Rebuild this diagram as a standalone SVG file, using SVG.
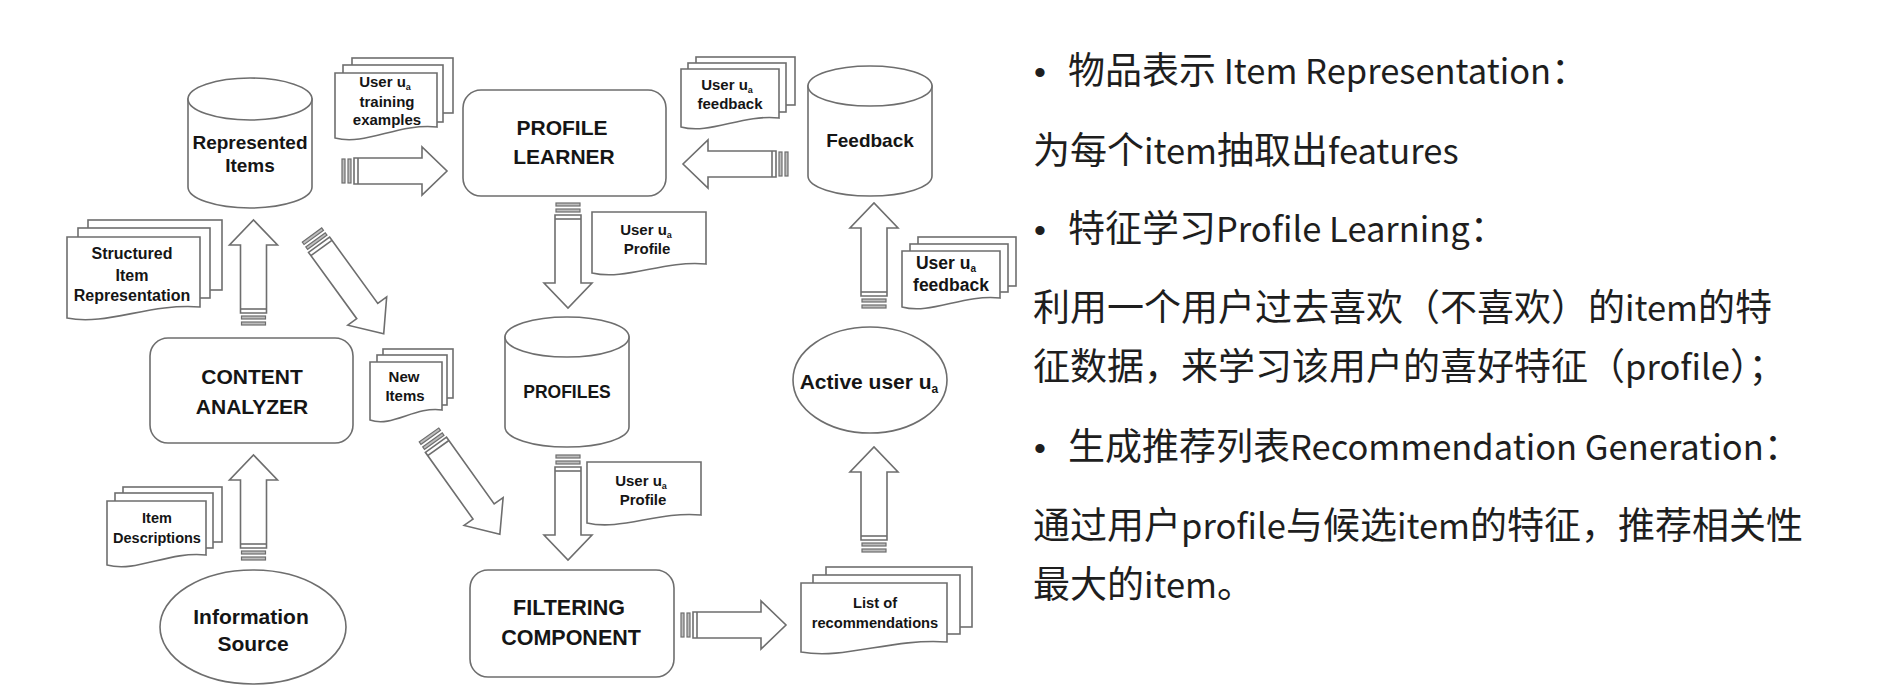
<svg xmlns="http://www.w3.org/2000/svg" xmlns:xlink="http://www.w3.org/1999/xlink" width="1887" height="699" viewBox="0 0 1887 699">
  <style>
    .sh { fill: #ffffff; stroke: #6e6e6e; stroke-width: 1.6; }
    .st { fill: #bdbdbd; stroke: #6e6e6e; stroke-width: 1.2; }
    .ab { fill: #ffffff; stroke: #6e6e6e; stroke-width: 1.6; stroke-linejoin: miter; }
    .lb { font-family: "Liberation Sans", Arial, sans-serif; font-weight: bold; fill: #151515; text-anchor: middle; }
    .zh { font-family: "Noto Sans CJK SC", "Noto Sans", sans-serif; font-size: 37px; fill: #1e1e1e; }
    .la { font-size: 34.5px; }
    .bu { font-family: "Liberation Sans", Arial, sans-serif; font-size: 34px; fill: #1e1e1e; text-anchor: middle; }
  </style>
  <defs>
    <!-- block arrows point along +x, tail at the origin -->
    <g id="ar105">
      <rect class="st" x="0" y="-12" width="3" height="24"/>
      <rect class="st" x="6" y="-12" width="3" height="24"/>
      <path class="ab" d="M12,-13 H80 V-24 L105,0 L80,24 V13 H12 Z"/>
      <line class="ab" x1="16" y1="-13" x2="16" y2="13"/>
    </g>
    <g id="ar122">
      <rect class="st" x="0" y="-12" width="3" height="24"/>
      <rect class="st" x="6" y="-12" width="3" height="24"/>
      <path class="ab" d="M12,-13 H94 V-24 L122,0 L94,24 V13 H12 Z"/>
      <line class="ab" x1="16" y1="-13" x2="16" y2="13"/>
    </g>
  </defs>

  <rect x="0" y="0" width="1887" height="699" fill="#ffffff"/>

  <!-- connectors -->
  <g id="connectors">
    <use xlink:href="#ar105" transform="translate(342,171)"/>
    <use xlink:href="#ar105" transform="translate(253.5,325) rotate(-90)"/>
    <use xlink:href="#ar105" transform="translate(253.5,560) rotate(-90)"/>
    <use xlink:href="#ar122" transform="translate(312,235) rotate(54)"/>
    <use xlink:href="#ar122" transform="translate(429,435) rotate(54.5)"/>
    <use xlink:href="#ar105" transform="translate(568,203) rotate(90)"/>
    <use xlink:href="#ar105" transform="translate(568,455) rotate(90)"/>
    <use xlink:href="#ar105" transform="translate(788,164) rotate(180)"/>
    <use xlink:href="#ar105" transform="translate(874,308) rotate(-90)"/>
    <use xlink:href="#ar105" transform="translate(874,552) rotate(-90)"/>
    <use xlink:href="#ar105" transform="translate(681,625)"/>
  </g>

  <!-- data stores -->
  <g id="represented-items">
    <path class="sh" d="M188,99 V187 A62,21 0 0 0 312,187 V99 Z"/>
    <ellipse class="sh" cx="250" cy="99" rx="62" ry="21"/>
    <text class="lb" font-size="19" x="250" y="149">Represented</text>
    <text class="lb" font-size="19" x="250" y="172">Items</text>
  </g>

  <g id="feedback-store">
    <path class="sh" d="M808,86 V176 A62,20 0 0 0 932,176 V86 Z"/>
    <ellipse class="sh" cx="870" cy="86" rx="62" ry="20"/>
    <text class="lb" font-size="19" x="870" y="147">Feedback</text>
  </g>

  <g id="profiles">
    <path class="sh" d="M505,337 V427 A62,20 0 0 0 629,427 V337 Z"/>
    <ellipse class="sh" cx="567" cy="337" rx="62" ry="20"/>
    <text class="lb" font-size="17.5" x="567" y="398">PROFILES</text>
  </g>

  <!-- processing components -->
  <g id="profile-learner">
    <rect class="sh" x="463" y="90" width="203" height="106" rx="18"/>
    <text class="lb" font-size="21" x="562" y="135">PROFILE</text>
    <text class="lb" font-size="21" x="564" y="164">LEARNER</text>
  </g>

  <g id="content-analyzer">
    <rect class="sh" x="150" y="338" width="203" height="105" rx="18"/>
    <text class="lb" font-size="21" x="252" y="384">CONTENT</text>
    <text class="lb" font-size="21" x="252" y="414">ANALYZER</text>
  </g>

  <g id="filtering-component">
    <rect class="sh" x="470" y="570" width="204" height="107" rx="18"/>
    <text class="lb" font-size="21.5" x="569" y="615">FILTERING</text>
    <text class="lb" font-size="21.5" x="571" y="645">COMPONENT</text>
  </g>

  <g id="information-source">
    <ellipse class="sh" cx="253" cy="627" rx="93" ry="57"/>
    <text class="lb" font-size="21" x="251" y="624">Information</text>
    <text class="lb" font-size="21" x="253" y="651">Source</text>
  </g>

  <g id="active-user">
    <ellipse class="sh" cx="870" cy="380" rx="77" ry="53"/>
    <text class="lb" font-size="21" x="869" y="389">Active user u<tspan font-size="12" dy="4">a</tspan></text>
  </g>

  <!-- documents exchanged between components -->
  <g id="training-examples">
    <rect class="sh" x="352" y="58" width="101" height="55"/>
    <rect class="sh" x="343" y="65" width="100" height="57"/>
    <path class="sh" d="M335,73 H437 V127 C398,123 366,146 335,138 Z"/>
    <text class="lb" font-size="15" x="385" y="87">User u<tspan font-size="9" dy="3">a</tspan></text>
    <text class="lb" font-size="15" x="387" y="107">training</text>
    <text class="lb" font-size="15" x="387" y="125">examples</text>
  </g>

  <g id="structured-item-representation">
    <rect class="sh" x="88" y="220" width="134" height="70"/>
    <rect class="sh" x="78" y="228" width="132" height="70"/>
    <path class="sh" d="M67,237 H200 V307 C149,303 107,326 67,318 Z"/>
    <text class="lb" font-size="16" x="132" y="259">Structured</text>
    <text class="lb" font-size="16" x="132" y="281">Item</text>
    <text class="lb" font-size="16" x="132" y="301">Representation</text>
  </g>

  <g id="new-items">
    <rect class="sh" x="383" y="349" width="70" height="49"/>
    <rect class="sh" x="377" y="355" width="70" height="50"/>
    <path class="sh" d="M370,362 H442 V410 C415,406 392,428 370,420 Z"/>
    <text class="lb" font-size="15" x="404" y="382">New</text>
    <text class="lb" font-size="15" x="405" y="401">Items</text>
  </g>

  <g id="item-descriptions">
    <rect class="sh" x="123" y="487" width="99" height="55"/>
    <rect class="sh" x="115" y="493" width="98" height="55"/>
    <path class="sh" d="M107,501 H206 V555 C168,551 137,573 107,565 Z"/>
    <text class="lb" font-size="14.5" x="157" y="523">Item</text>
    <text class="lb" font-size="14.5" x="157" y="543">Descriptions</text>
  </g>

  <g id="user-feedback-top">
    <rect class="sh" x="696" y="57" width="99" height="48"/>
    <rect class="sh" x="688" y="63" width="98" height="49"/>
    <path class="sh" d="M681,69 H779 V118 C742,114 710,135 681,127 Z"/>
    <text class="lb" font-size="15" x="727" y="90">User u<tspan font-size="9" dy="3">a</tspan></text>
    <text class="lb" font-size="15" x="730" y="109">feedback</text>
  </g>

  <g id="user-profile-top">
    <path class="sh" d="M592,212 H706 V264 C663,260 626,281 592,273 Z"/>
    <text class="lb" font-size="15" x="646" y="235">User u<tspan font-size="9" dy="3">a</tspan></text>
    <text class="lb" font-size="15" x="647" y="254">Profile</text>
  </g>

  <g id="user-feedback-right">
    <rect class="sh" x="918" y="237" width="98" height="49"/>
    <rect class="sh" x="910" y="244" width="98" height="48"/>
    <path class="sh" d="M902,251 H1000 V298 C963,294 931,315 902,307 Z"/>
    <text class="lb" font-size="17.5" x="946" y="269">User u<tspan font-size="10" dy="3">a</tspan></text>
    <text class="lb" font-size="17.5" x="951" y="291">feedback</text>
  </g>

  <g id="user-profile-bottom">
    <path class="sh" d="M587,462 H701 V515 C658,511 621,531 587,523 Z"/>
    <text class="lb" font-size="15" x="641" y="486">User u<tspan font-size="9" dy="3">a</tspan></text>
    <text class="lb" font-size="15" x="643" y="505">Profile</text>
  </g>

  <g id="recommendation-list">
    <rect class="sh" x="826" y="567" width="146" height="60"/>
    <rect class="sh" x="813" y="575" width="147" height="59"/>
    <path class="sh" d="M801,583 H947 V642 C891,638 845,660 801,652 Z"/>
    <text class="lb" font-size="14.7" x="875" y="608">List of</text>
    <text class="lb" font-size="14.7" x="875" y="628">recommendations</text>
  </g>

  <!-- explanatory notes -->
  <g id="notes">
    <text class="bu" x="1040" y="84">•</text>
    <text class="zh" x="1068" y="84">物品表示<tspan class="la"> Item Representation</tspan>：</text>
    <text class="zh" x="1033" y="164">为每个<tspan class="la">item</tspan>抽取出<tspan class="la">features</tspan></text>
    <text class="bu" x="1040" y="242">•</text>
    <text class="zh" x="1068" y="242">特征学习<tspan class="la">Profile Learning</tspan>：</text>
    <text class="zh" x="1033" y="321">利用一个用户过去喜欢（不喜欢）的<tspan class="la">item</tspan>的特</text>
    <text class="zh" x="1033" y="380">征数据，来学习该用户的喜好特征（<tspan class="la">profile</tspan>）；</text>
    <text class="bu" x="1040" y="460">•</text>
    <text class="zh" x="1068" y="460">生成推荐列表<tspan class="la">Recommendation Generation</tspan>：</text>
    <text class="zh" x="1033" y="539">通过用户<tspan class="la">profile</tspan>与候选<tspan class="la">item</tspan>的特征，推荐相关性</text>
    <text class="zh" x="1033" y="598">最大的<tspan class="la">item</tspan>。</text>
  </g>
</svg>
